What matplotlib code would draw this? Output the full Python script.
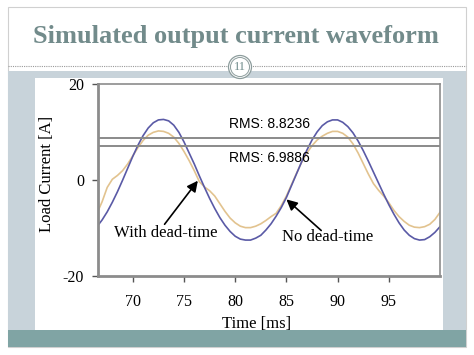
import matplotlib
matplotlib.use("Agg")
import matplotlib.pyplot as plt
from matplotlib.patches import Rectangle, Circle

plt.rcParams["axes.unicode_minus"] = False

time_ms = [66.5, 67.0, 67.5, 68.0, 68.5, 69.0, 69.5, 70.0, 70.5, 71.0,
           71.5, 72.0, 72.5, 73.0, 73.5, 74.0, 74.5, 75.0, 75.5, 76.0,
           76.5, 77.0, 77.5, 78.0, 78.5, 79.0, 79.5, 80.0, 80.5, 81.0,
           81.5, 82.0, 82.5, 83.0, 83.5, 84.0, 84.5, 85.0, 85.5, 86.0,
           86.5, 87.0, 87.5, 88.0, 88.5, 89.0, 89.5, 90.0, 90.5, 91.0,
           91.5, 92.0, 92.5, 93.0, 93.5, 94.0, 94.5, 95.0, 95.5, 96.0,
           96.5, 97.0, 97.5, 98.0, 98.5, 99.0, 99.5, 100.0]
no_dead_time = [-9.8, -8.4, -6.7, -4.7, -2.5, -0.1, 2.4, 4.9, 7.2, 9.2,
                10.8, 11.9, 12.5, 12.6, 12.3, 11.4, 9.9, 7.9, 5.6, 3.3,
                0.8, -1.6, -3.9, -6.0, -7.9, -9.5, -10.8, -11.8, -12.4, -12.6,
                -12.6, -12.2, -11.6, -10.5, -9.2, -7.6, -5.8, -3.7, -1.2, 1.3,
                3.8, 6.2, 8.3, 10.0, 11.3, 12.1, 12.5, 12.5, 12.0, 11.1,
                9.8, 8.1, 6.1, 3.9, 1.6, -0.7, -3.0, -5.2, -7.2, -9.0,
                -10.5, -11.6, -12.3, -12.6, -12.5, -11.9, -11.0, -9.8]
with_dead_time = [-7.0, -4.6, -1.6, 0.1, 0.9, 1.9, 3.3, 5.0, 6.7, 8.2,
                  9.3, 9.9, 10.2, 10.1, 9.7, 8.9, 7.6, 5.9, 4.0, 1.9,
                  -0.4, -1.5, -2.3, -3.4, -5.0, -6.6, -8.0, -9.0, -9.7, -10.0,
                  -10.0, -9.7, -9.2, -8.5, -7.7, -7.0, -5.4, -3.4, -1.0, 1.4,
                  3.7, 5.6, 7.1, 8.3, 9.1, 9.7, 10.1, 10.1, 9.7, 8.9,
                  7.5, 5.6, 3.4, 1.2, -0.8, -2.2, -3.4, -4.8, -6.4, -7.7,
                  -8.7, -9.5, -9.9, -10.0, -9.8, -9.3, -8.3, -6.8]
rms_values = [8.8236, 6.9886]
x_ticks = [70, 75, 80, 85, 90, 95]
y_ticks = [-20, 0, 20]

SERIF = "Liberation Serif"
SANS = "Liberation Sans"
W, H = 474, 355

fig = plt.figure(figsize=(W / 100, H / 100), dpi=100)

# slide background, drawn in pixel coordinates
bg = fig.add_axes([0, 0, 1, 1])
bg.set_xlim(0, W)
bg.set_ylim(H, 0)
bg.axis("off")
bg.add_patch(Rectangle((8, 7), 458, 340, fill=False, edgecolor="#d0d0d0", lw=0.8))
bg.add_patch(Rectangle((8, 71), 458, 259, color="#c8d3da", lw=0))
bg.add_patch(Rectangle((35, 78), 408, 252, color="white", lw=0))
bg.add_patch(Rectangle((8, 330), 458, 17, color="#80a4a4", lw=0))
bg.plot([8, 466], [66, 66], color="#9a9a9a", lw=0.8, ls=(0, (1, 1)))
bg.add_patch(Circle((240, 67), 11.5, facecolor="white", edgecolor="#8c9c9c", lw=0.9, zorder=3))
bg.add_patch(Circle((240, 67), 9.5, fill=False, edgecolor="#8c9c9c", lw=0.7, zorder=4))
bg.text(240, 67.5, "11", ha="center", va="center", fontsize=9, family=SERIF,
        color="#6f8b8b", zorder=5)
bg.text(236, 37, "Simulated output current waveform", ha="center", va="center",
        fontsize=19, fontweight="bold", family=SERIF, color="#728b8b")

ax = fig.add_axes([98 / W, 1 - 275.5 / H, 342 / W, 191.5 / H])
ax.plot(time_ms, with_dead_time, color="#e2c38f", lw=1.2)
ax.plot(time_ms, no_dead_time, color="#5a5aa6", lw=1.2)
for r in rms_values:
    ax.axhline(r, color="#8a8a8a", lw=1.4)

ax.text(79.4, 11.7, f"RMS: {rms_values[0]:.4f}", family=SANS, fontsize=10, va="center")
ax.text(79.4, 4.6, f"RMS: {rms_values[1]:.4f}", family=SANS, fontsize=10, va="center")

arrow = dict(arrowstyle="-|>", color="black", lw=1.2, mutation_scale=16,
             shrinkA=0, shrinkB=0)
ax.annotate("", xy=(76.35, -0.2), xytext=(73.1, -9.3), arrowprops=arrow)
ax.text(73.2, -11.2, "With dead-time", family=SERIF, fontsize=12, ha="center", va="center")
ax.annotate("", xy=(85.0, -4.1), xytext=(88.4, -10.6), arrowprops=arrow)
ax.text(89.0, -12.0, "No dead-time", family=SERIF, fontsize=12, ha="center", va="center")

ax.set_xlim(66.6, 100)
ax.set_ylim(-20, 20)
ax.set_xticks(x_ticks)
ax.set_yticks(y_ticks)
ax.tick_params(direction="out", length=4, width=1, color="#555555", labelsize=11.5)
ax.tick_params(axis="x", pad=9)
ax.tick_params(axis="y", pad=6)
for lbl in ax.get_xticklabels() + ax.get_yticklabels():
    lbl.set_family(SERIF)
for side, sp in ax.spines.items():
    sp.set_color("#8c8c8c")
    sp.set_linewidth(2.0 if side in ("left", "bottom") else 1.2)

ax.set_xlabel("Time [ms]", family=SERIF, fontsize=12)
ax.set_ylabel("Load Current [A]", family=SERIF, fontsize=12)
ax.xaxis.set_label_coords(0.465, -0.21)
ax.yaxis.set_label_coords(-0.125, 0.53)

fig.savefig("out.png", dpi=100)
